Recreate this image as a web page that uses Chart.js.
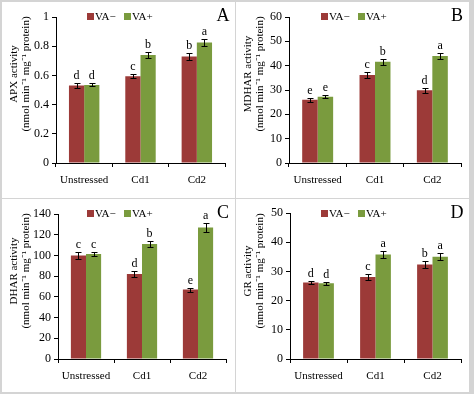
<!DOCTYPE html>
<html>
<head>
<meta charset="utf-8">
<script src="https://cdn.jsdelivr.net/npm/chart.js@4/dist/chart.umd.min.js"></script>
<style>
  html, body { margin: 0; padding: 0; }
  body { width: 474px; height: 394px; background: #d4d4d4; position: relative; overflow: hidden; }
  .panel { position: absolute; background: #fff; }
  .panel canvas { display: block; }
</style>
</head>
<body>
<div class="panel" style="left:2px;top:2px;width:233px;height:196px"><canvas id="chartA" width="233" height="196"></canvas></div>
<div class="panel" style="left:236px;top:2px;width:233px;height:196px"><canvas id="chartB" width="233" height="196"></canvas></div>
<div class="panel" style="left:2px;top:199px;width:233px;height:193px"><canvas id="chartC" width="233" height="193"></canvas></div>
<div class="panel" style="left:236px;top:199px;width:233px;height:193px"><canvas id="chartD" width="233" height="193"></canvas></div>

<script>
// data
const categories = ['Unstressed', 'Cd1', 'Cd2'];
const seriesNames = ['VA\u2212', 'VA+'];

// A - APX
const apxMinus = [0.53, 0.595, 0.73];
const apxPlus = [0.535, 0.74, 0.825];
const apxErrMinus = [0.015, 0.015, 0.025];
const apxErrPlus = [0.01, 0.022, 0.022];
const apxSigMinus = ['d', 'c', 'b'];
const apxSigPlus = ['d', 'b', 'a'];

// B - MDHAR
const mdharMinus = [26, 36.2, 29.9];
const mdharPlus = [27.2, 41.6, 44];
const mdharErrMinus = [0.8, 1.2, 1.0];
const mdharErrPlus = [0.6, 1.3, 1.4];
const mdharSigMinus = ['e', 'c', 'd'];
const mdharSigPlus = ['e', 'b', 'a'];

// C - DHAR
const dharMinus = [100, 82, 67];
const dharPlus = [101.5, 111, 127];
const dharErrMinus = [3, 2.5, 2];
const dharErrPlus = [2, 3, 4];
const dharSigMinus = ['c', 'd', 'e'];
const dharSigPlus = ['c', 'b', 'a'];

// D - GR
const grMinus = [26.2, 28.1, 32.4];
const grPlus = [25.9, 35.8, 35];
const grErrMinus = [0.6, 0.9, 1.1];
const grErrPlus = [0.6, 1.1, 1.2];
const grSigMinus = ['d', 'c', 'b'];
const grSigPlus = ['d', 'a', 'a'];

const RED = '#9c3a38';
const GREEN = '#7a9b3e';
const SERIF = '"Liberation Serif", "Times New Roman", serif';
const UNIT = '(nmol min\u207B\u00B9 mg\u207B\u00B9 protein)';

Chart.defaults.font.family = SERIF;
Chart.defaults.font.size = 11;
Chart.defaults.color = '#000';

// error bars, significance letters, legend, panel letter, y title
const extrasPlugin = {
  id: 'extras',
  afterDatasetsDraw(chart) {
    const ctx = chart.ctx;
    const y = chart.scales.y;
    ctx.save();
    ctx.strokeStyle = '#000';
    ctx.lineWidth = 1;
    ctx.fillStyle = '#000';
    ctx.font = '12px ' + SERIF;
    ctx.textAlign = 'center';
    ctx.textBaseline = 'alphabetic';
    chart.data.datasets.forEach((ds, i) => {
      chart.getDatasetMeta(i).data.forEach((bar, j) => {
        const v = ds.data[j], e = ds.errors[j];
        const top = Math.round(y.getPixelForValue(v + e)) + 0.5;
        const bot = Math.round(y.getPixelForValue(v - e)) + 0.5;
        const x = Math.round(bar.x) + 0.5;
        ctx.beginPath();
        ctx.moveTo(x, top); ctx.lineTo(x, bot);
        ctx.moveTo(x - 3, top); ctx.lineTo(x + 3, top);
        ctx.moveTo(x - 3, bot); ctx.lineTo(x + 3, bot);
        ctx.stroke();
        ctx.fillText(ds.sig[j], bar.x, top - 5);
      });
    });
    ctx.restore();
  },
  afterDraw(chart, args, opts) {
    const ctx = chart.ctx;
    ctx.save();
    ctx.fillStyle = '#000';
    ctx.textBaseline = 'middle';

    // legend
    ctx.font = '11px ' + SERIF;
    ctx.textAlign = 'left';
    const lx = [85, 122];
    chart.data.datasets.forEach((ds, i) => {
      ctx.fillStyle = ds.backgroundColor;
      ctx.fillRect(lx[i], 11, 7, 7);
      ctx.fillStyle = '#000';
      ctx.fillText(ds.label, lx[i] + 8, 15);
    });

    // panel letter
    ctx.font = '18px ' + SERIF;
    ctx.textAlign = 'center';
    ctx.fillText(opts.letter, 221, 14);

    // rotated y title, two lines
    ctx.font = '11px ' + SERIF;
    ctx.translate(12, 72);
    ctx.rotate(-Math.PI / 2);
    ctx.fillText(opts.title, 0, 0);
    ctx.fillText(UNIT, 0, 12);
    ctx.restore();
  }
};

function drawPanel(id, o) {
  new Chart(document.getElementById(id), {
    type: 'bar',
    data: {
      labels: categories,
      datasets: [
        { label: seriesNames[0], data: o.minus, errors: o.errMinus, sig: o.sigMinus, backgroundColor: RED },
        { label: seriesNames[1], data: o.plus, errors: o.errPlus, sig: o.sigPlus, backgroundColor: GREEN }
      ]
    },
    options: {
      responsive: false,
      animation: false,
      devicePixelRatio: 1,
      datasets: { bar: { categoryPercentage: 0.54, barPercentage: 1 } },
      layout: { padding: { left: 0, top: o.top, right: o.right, bottom: 0 } },
      plugins: {
        legend: { display: false },
        tooltip: { enabled: false },
        extras: { title: o.title, letter: o.letter }
      },
      scales: {
        x: {
          grid: { drawOnChartArea: false, color: '#000', tickLength: 4 },
          border: { color: '#000' },
          ticks: { padding: 7, maxRotation: 0, autoSkip: false },
          afterFit: s => { s.height = o.bottom; }
        },
        y: {
          min: 0,
          max: o.max,
          grid: { drawOnChartArea: false, color: '#000', tickLength: 4 },
          border: { color: '#000' },
          ticks: {
            stepSize: o.step,
            padding: 3,
            font: { size: 12 },
            callback: v => String(Math.round(v * 10) / 10)
          },
          afterFit: s => { s.width = o.left; }
        }
      }
    },
    plugins: [extrasPlugin]
  });
}

drawPanel('chartA', {
  minus: apxMinus, plus: apxPlus, errMinus: apxErrMinus, errPlus: apxErrPlus,
  sigMinus: apxSigMinus, sigPlus: apxSigPlus, max: 1, step: 0.2,
  title: 'APX activity', letter: 'A', left: 54, right: 10, top: 15, bottom: 35
});
drawPanel('chartB', {
  minus: mdharMinus, plus: mdharPlus, errMinus: mdharErrMinus, errPlus: mdharErrPlus,
  sigMinus: mdharSigMinus, sigPlus: mdharSigPlus, max: 60, step: 10,
  title: 'MDHAR activity', letter: 'B', left: 53, right: 8, top: 15, bottom: 35
});
drawPanel('chartC', {
  minus: dharMinus, plus: dharPlus, errMinus: dharErrMinus, errPlus: dharErrPlus,
  sigMinus: dharSigMinus, sigPlus: dharSigPlus, max: 140, step: 20,
  title: 'DHAR activity', letter: 'C', left: 56, right: 9, top: 15, bottom: 33
});
drawPanel('chartD', {
  minus: grMinus, plus: grPlus, errMinus: grErrMinus, errPlus: grErrPlus,
  sigMinus: grSigMinus, sigPlus: grSigPlus, max: 50, step: 10,
  title: 'GR activity', letter: 'D', left: 54, right: 8, top: 14, bottom: 33
});
</script>
</body>
</html>
